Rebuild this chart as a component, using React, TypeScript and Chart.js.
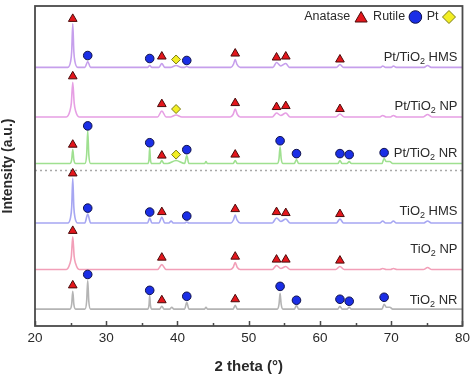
import React, { useEffect, useRef } from 'react';
import { Chart, registerables } from 'chart.js';

Chart.register(...registerables);

const FONT = '"Liberation Sans", Arial, Helvetica, sans-serif';

// ---- axes ----
const xMin = 20;
const xMax = 80;
const yMin = 0;
const yMax = 323;
const xMajorTicks = [20, 30, 40, 50, 60, 70, 80];
const xMinorTicks = [25, 35, 45, 55, 65, 75];
const xTitle = '2 theta (°)';
const yTitle = 'Intensity (a.u.)';

// ---- samples (top to bottom) ----
const sampleNames = ['Pt/TiO₂ HMS', 'Pt/TiO₂ NP', 'Pt/TiO₂ NR', 'TiO₂ HMS', 'TiO₂ NP', 'TiO₂ NR'];
const sampleOffsets = [261, 211, 164, 104, 57, 17];
const sampleLabelY = [267, 218, 171, 112, 74, 22];
const sampleLabelX = 79.3;
const sampleColors = ['#c69fec', '#e69fe4', '#9fe090', '#a6a6f2', '#f29fb8', '#b4b4b4'];
const separatorY = 157;

// ---- diffraction patterns (2θ, relative intensity) ----
const ptHmsTheta = [20, 24.6, 25.0, 25.15, 25.3, 25.45, 25.6, 26.0, 27.0, 27.4, 27.8, 35.8, 36.1, 36.4, 37.4, 37.8, 38.2, 39.0, 39.8, 40.6, 41.0, 41.3, 41.6, 47.5, 47.85, 48.1, 48.35, 48.8, 53.4, 53.9, 54.5, 55.2, 55.7, 62.3, 62.8, 63.3, 68.5, 68.8, 69.2, 70.0, 70.3, 70.7, 74.6, 75.1, 75.6, 80];
const ptHmsInt = [0, 0, 6, 16, 44, 16, 6, 0, 0, 6, 0, 0, 2, 0, 0, 4, 0, 0, 2, 0, 0, 1, 0, 0, 3, 8, 3, 0, 0, 5, 1.5, 4, 0, 0, 3, 0, 0, 1.5, 0, 0, 1.5, 0, 0, 2, 0, 0];

const ptNpTheta = [20, 24.4, 24.9, 25.1, 25.3, 25.5, 25.7, 26.2, 37.2, 37.8, 38.4, 39.0, 39.8, 40.6, 47.4, 47.8, 48.1, 48.4, 48.8, 53.3, 53.9, 54.5, 55.2, 55.8, 62.2, 62.8, 63.4, 68.4, 68.8, 69.3, 69.9, 70.3, 70.8, 74.5, 75.1, 75.7, 80];
const ptNpInt = [0, 0, 6, 14, 35, 14, 6, 0, 0, 6, 0, 0, 2, 0, 0, 2.5, 8, 2.5, 0, 0, 4, 1.5, 4, 0, 0, 3, 0, 0, 1.5, 0, 0, 1.5, 0, 0, 2.5, 0, 0];

const ptNrTheta = [20, 24.9, 25.15, 25.3, 25.45, 25.7, 27.0, 27.25, 27.4, 27.55, 27.8, 35.8, 36.0, 36.1, 36.2, 36.4, 37.5, 37.8, 38.1, 38.6, 39.8, 41.0, 41.3, 41.6, 43.8, 44.0, 44.2, 47.8, 48.1, 48.4, 54.0, 54.25, 54.4, 54.55, 54.8, 56.4, 56.7, 57.0, 62.5, 62.8, 63.1, 63.8, 64.1, 64.4, 68.7, 69.0, 69.3, 69.8, 70.2, 80];
const ptNrInt = [0, 0, 4, 14, 4, 0, 0, 9, 33, 9, 0, 0, 4, 16, 4, 0, 0, 3, 0, 0, 3, 0, 8, 0, 0, 2, 0, 0, 3, 0, 0, 5, 17, 5, 0, 0, 4, 0, 0, 3, 0, 0, 2, 0, 0, 5, 2, 2, 0, 0];

const tiHmsTheta = [20, 24.6, 25.0, 25.15, 25.3, 25.45, 25.6, 26.0, 27.0, 27.4, 27.8, 35.8, 36.1, 36.4, 37.4, 37.8, 38.2, 38.8, 39.1, 39.4, 41.0, 41.3, 41.6, 47.5, 47.85, 48.1, 48.35, 48.8, 53.3, 53.9, 54.5, 55.2, 55.8, 62.3, 62.8, 63.3, 68.4, 68.8, 69.2, 69.9, 70.3, 70.7, 74.6, 75.1, 75.6, 80];
const tiHmsInt = [0, 0, 6, 16, 45, 16, 6, 0, 0, 9, 0, 0, 5, 0, 0, 6, 0, 0, 2, 0, 0, 1, 0, 0, 3, 8, 3, 0, 0, 5, 1.5, 4, 0, 0, 4, 0, 0, 2, 0, 0, 2, 0, 0, 2, 0, 0];

const tiNpTheta = [20, 24.4, 24.9, 25.1, 25.3, 25.5, 25.7, 26.2, 37.2, 37.8, 38.4, 47.4, 47.8, 48.1, 48.4, 48.8, 53.3, 53.9, 54.5, 55.2, 55.8, 62.2, 62.8, 63.4, 68.4, 68.8, 69.3, 69.9, 70.3, 70.8, 74.5, 75.1, 75.7, 80];
const tiNpInt = [0, 0, 6, 13, 33, 13, 6, 0, 0, 5, 0, 0, 2, 7, 2, 0, 0, 4, 1, 3, 0, 0, 3, 0, 0, 1, 0, 0, 1, 0, 0, 2, 0, 0];

const tiNrTheta = [20, 24.9, 25.15, 25.3, 25.45, 25.7, 27.0, 27.25, 27.4, 27.55, 27.8, 35.8, 36.0, 36.1, 36.2, 36.4, 37.5, 37.8, 38.1, 38.9, 39.2, 39.5, 41.0, 41.3, 41.6, 43.8, 44.0, 44.2, 47.8, 48.1, 48.4, 54.0, 54.25, 54.4, 54.55, 54.8, 56.4, 56.7, 57.0, 62.5, 62.8, 63.1, 63.8, 64.1, 64.4, 68.7, 69.0, 69.3, 69.8, 70.2, 80];
const tiNrInt = [0, 0, 5, 18, 5, 0, 0, 8, 29, 8, 0, 0, 4, 14, 4, 0, 0, 3, 0, 0, 2, 0, 0, 7, 0, 0, 2, 0, 0, 4, 0, 0, 5, 16, 5, 0, 0, 4, 0, 0, 3, 0, 0, 2, 0, 0, 5, 2, 2, 0, 0];

const sampleThetas = [ptHmsTheta, ptNpTheta, ptNrTheta, tiHmsTheta, tiNpTheta, tiNrTheta];
const sampleInts = [ptHmsInt, ptNpInt, ptNrInt, tiHmsInt, tiNpInt, tiNrInt];

// ---- phase markers ----
const anataseX = [25.3, 37.8, 48.1, 53.9, 55.2, 62.8, 25.3, 37.8, 48.1, 53.9, 55.2, 62.8, 25.3, 37.8, 48.1, 25.3, 37.8, 48.1, 53.9, 55.2, 62.8, 25.3, 37.8, 48.1, 53.9, 55.2, 62.8, 25.3, 37.8, 48.1];
const anataseY = [310, 272, 275, 271, 272, 269, 252, 224, 225, 221, 222, 219, 183, 172, 173, 154, 115, 118, 115, 114, 113, 96, 69, 70, 67, 67, 66, 41, 26, 27];
const rutileX = [27.4, 36.1, 41.3, 27.4, 36.1, 41.3, 54.4, 56.7, 62.8, 64.1, 69.0, 27.4, 36.1, 41.3, 27.4, 36.1, 41.3, 54.4, 56.7, 62.8, 64.1, 69.0];
const rutileY = [273, 270, 268, 202, 185, 178, 187, 174, 174, 173, 175, 119, 115, 111, 52, 36, 30, 40, 26, 27, 25, 29];
const ptX = [39.8, 39.8, 39.8];
const ptY = [269, 219, 173];

const legendNames = ['Anatase', 'Rutile', 'Pt'];

const COL_TRI = '#e4161c';
const COL_TRI_B = '#4a0c0c';
const COL_CIR = '#1a2ee6';
const COL_CIR_B = '#10124a';
const COL_DIA = '#f2ee24';
const COL_DIA_B = '#7a7a18';

function drawMarker(ctx: CanvasRenderingContext2D, kind: string, x: number, y: number, r: number) {
  ctx.beginPath();
  if (kind === 'tri') {
    ctx.moveTo(x, y - r);
    ctx.lineTo(x + r * 0.866, y + r * 0.5);
    ctx.lineTo(x - r * 0.866, y + r * 0.5);
    ctx.closePath();
    ctx.fillStyle = COL_TRI;
    ctx.strokeStyle = COL_TRI_B;
  } else if (kind === 'cir') {
    ctx.arc(x, y, r, 0, Math.PI * 2);
    ctx.fillStyle = COL_CIR;
    ctx.strokeStyle = COL_CIR_B;
  } else {
    ctx.moveTo(x, y - r);
    ctx.lineTo(x + r, y);
    ctx.lineTo(x, y + r);
    ctx.lineTo(x - r, y);
    ctx.closePath();
    ctx.fillStyle = COL_DIA;
    ctx.strokeStyle = COL_DIA_B;
  }
  ctx.lineWidth = 1;
  ctx.fill();
  ctx.stroke();
}

const overlayPlugin = {
  id: 'overlay',
  afterDatasetsDraw(chart: any) {
    const { ctx, chartArea: a, scales } = chart;
    const xs = scales.x;
    const ys = scales.y;
    ctx.save();
    // inward ticks
    ctx.strokeStyle = '#4a4a4a';
    ctx.lineWidth = 1.5;
    ctx.beginPath();
    for (const t of xMajorTicks) {
      const px = Math.round(xs.getPixelForValue(t)) + 0.5;
      ctx.moveTo(px, a.bottom);
      ctx.lineTo(px, a.bottom - 5);
    }
    for (const t of xMinorTicks) {
      const px = Math.round(xs.getPixelForValue(t)) + 0.5;
      ctx.moveTo(px, a.bottom);
      ctx.lineTo(px, a.bottom - 3);
    }
    ctx.stroke();
    // frame
    ctx.lineWidth = 1.8;
    ctx.strokeRect(a.left, a.top, a.right - a.left, a.bottom - a.top);

    // sample labels
    const big = `13px ${FONT}`;
    const small = `9px ${FONT}`;
    ctx.fillStyle = '#2a2a2a';
    ctx.textBaseline = 'alphabetic';
    ctx.textAlign = 'left';
    sampleNames.forEach((name, i) => {
      const [pre, post] = name.split('₂');
      ctx.font = big;
      const w1 = ctx.measureText(pre).width;
      const w3 = ctx.measureText(post).width;
      ctx.font = small;
      const w2 = ctx.measureText('2').width;
      const right = xs.getPixelForValue(sampleLabelX);
      const base = ys.getPixelForValue(sampleLabelY[i]);
      let x0 = right - (w1 + w2 + w3);
      ctx.font = big;
      ctx.fillText(pre, x0, base);
      x0 += w1;
      ctx.font = small;
      ctx.fillText('2', x0, base + 3);
      x0 += w2;
      ctx.font = big;
      ctx.fillText(post, x0, base);
    });

    // legend: text followed by symbol, right aligned
    ctx.font = `12.5px ${FONT}`;
    ctx.textBaseline = 'middle';
    const ly = a.top + 11;
    const kinds = ['tri', 'cir', 'dia'];
    const radii = [7, 6.3, 6.5];
    let cursor = a.right - 7;
    for (let i = legendNames.length - 1; i >= 0; i--) {
      const r = radii[i];
      const cx = cursor - r;
      drawMarker(ctx, kinds[i], cx, kinds[i] === 'tri' ? ly + 1.5 : ly, r);
      cursor = cx - r - 4;
      const w = ctx.measureText(legendNames[i]).width;
      ctx.fillStyle = '#2a2a2a';
      ctx.fillText(legendNames[i], cursor - w, ly);
      cursor = cursor - w - 5;
    }
    ctx.restore();
  },
};

export default function App() {
  const ref = useRef<HTMLCanvasElement | null>(null);

  useEffect(() => {
    if (!ref.current) return;
    const lineSets: any[] = sampleNames.map((name, i) => ({
      label: name,
      data: sampleThetas[i].map((t, k) => ({ x: t, y: sampleOffsets[i] + sampleInts[i][k] })),
      borderColor: sampleColors[i],
      borderWidth: 1.6,
      pointRadius: 0,
      fill: false,
      cubicInterpolationMode: 'monotone',
      order: 2,
    }));
    const sep = {
      label: 'separator',
      data: [{ x: xMin, y: separatorY }, { x: xMax, y: separatorY }],
      borderColor: '#a8a8a8',
      borderWidth: 1.5,
      borderDash: [2, 3],
      pointRadius: 0,
      order: 3,
    };
    const markerSets: any[] = [
      {
        label: 'Anatase',
        data: anataseX.map((x, k) => ({ x, y: anataseY[k] })),
        showLine: false,
        pointStyle: 'triangle',
        pointRadius: 5,
        backgroundColor: COL_TRI,
        borderColor: COL_TRI_B,
        borderWidth: 1,
        order: 0,
      },
      {
        label: 'Rutile',
        data: rutileX.map((x, k) => ({ x, y: rutileY[k] })),
        showLine: false,
        pointStyle: 'circle',
        pointRadius: 4.3,
        backgroundColor: COL_CIR,
        borderColor: COL_CIR_B,
        borderWidth: 1,
        order: 0,
      },
      {
        label: 'Pt',
        data: ptX.map((x, k) => ({ x, y: ptY[k] })),
        showLine: false,
        pointStyle: 'rectRot',
        pointRadius: 4.5,
        backgroundColor: COL_DIA,
        borderColor: COL_DIA_B,
        borderWidth: 1,
        order: 0,
      },
    ];

    const chart = new Chart(ref.current, {
      type: 'line',
      data: { datasets: [...markerSets, ...lineSets, sep] },
      options: {
        animation: false,
        responsive: false,
        layout: { padding: { left: 0, right: 11, top: 3, bottom: 0 } },
        plugins: { legend: { display: false }, tooltip: { enabled: false } },
        scales: {
          x: {
            type: 'linear',
            min: xMin,
            max: xMax,
            afterFit: (s: any) => { s.height = 52; },
            grid: { display: false, drawTicks: false },
            border: { display: false },
            ticks: {
              stepSize: 10,
              padding: 4,
              color: '#2a2a2a',
              font: { family: FONT, size: 13.5 },
            },
            title: {
              display: true,
              text: xTitle,
              color: '#2a2a2a',
              font: { family: FONT, size: 15, weight: 'bold' },
              padding: { top: 0, bottom: 2 },
            },
          },
          y: {
            type: 'linear',
            min: yMin,
            max: yMax,
            afterFit: (s: any) => { s.width = 35; },
            grid: { display: false, drawTicks: false },
            border: { display: false },
            ticks: { display: false },
            title: {
              display: true,
              text: yTitle,
              color: '#2a2a2a',
              font: { family: FONT, size: 14, weight: 'bold' },
              padding: { top: 0, bottom: 0 },
            },
          },
        },
      } as any,
      plugins: [overlayPlugin],
    });
    return () => chart.destroy();
  }, []);

  return (
    <div style={{ position: 'absolute', left: 0, top: 0, width: 474, height: 378, background: '#fff' }}>
      <canvas ref={ref} width={474} height={378} style={{ display: 'block' }} />
    </div>
  );
}
